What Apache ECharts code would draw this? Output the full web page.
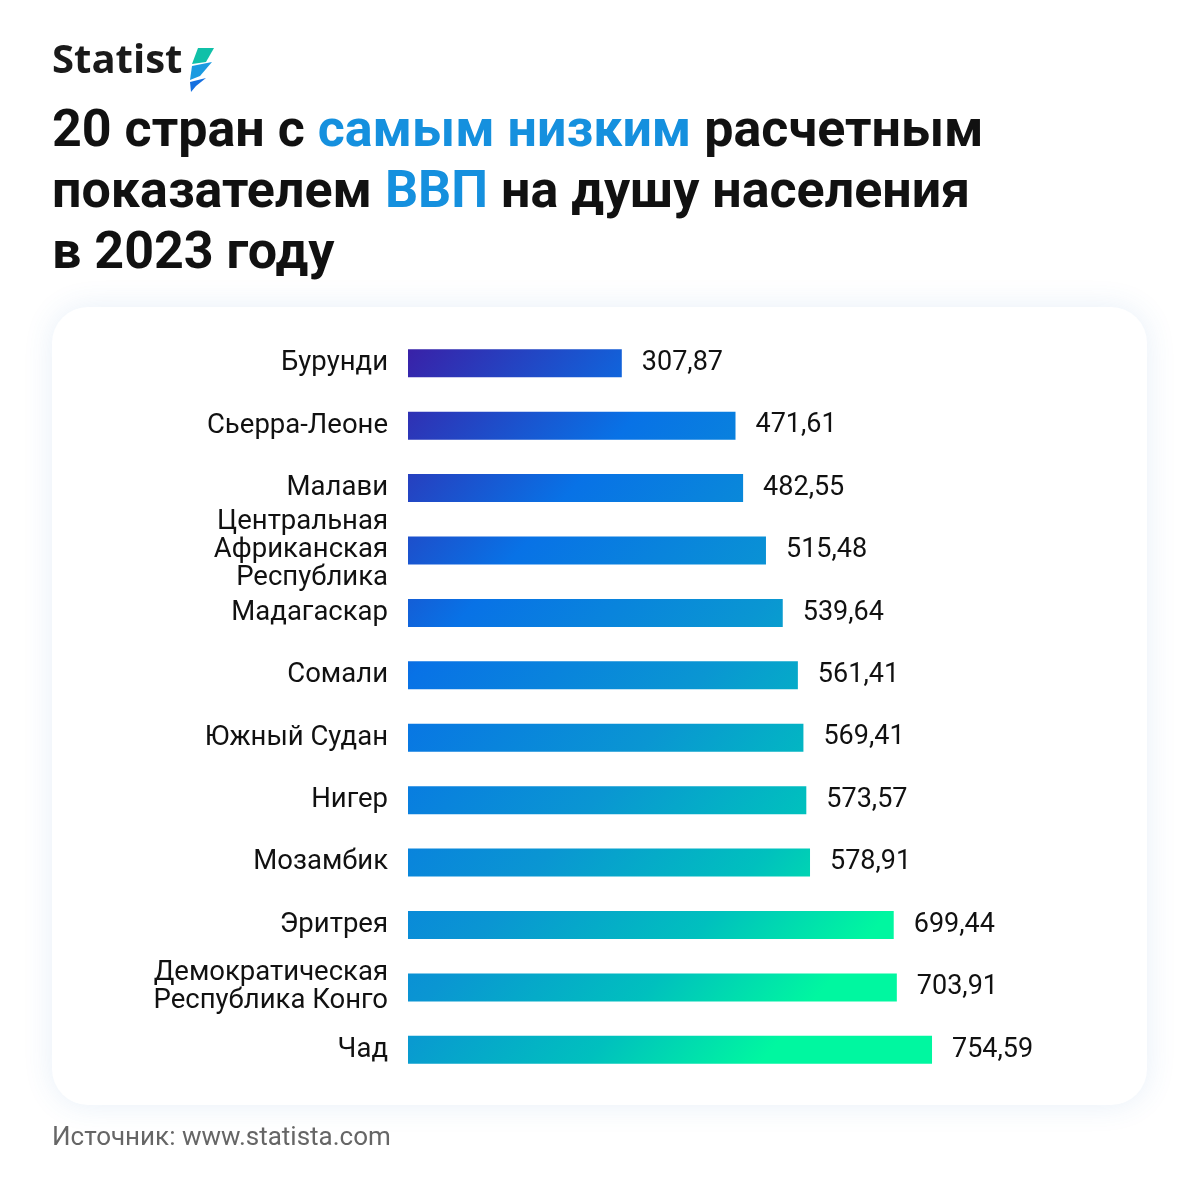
<!DOCTYPE html>
<html><head><meta charset="utf-8">
<script src="https://cdn.jsdelivr.net/npm/echarts@6/dist/echarts.min.js"></script>
<style>html,body{margin:0;padding:0;background:#fff}#c{width:1200px;height:1200px}</style>
</head><body><div id="c"></div>
<script>
const countries = ['Бурунди','Сьерра-Леоне','Малави','Центральная\nАфриканская\nРеспублика','Мадагаскар','Сомали','Южный Судан','Нигер','Мозамбик','Эритрея','Демократическая\nРеспублика Конго','Чад'];
const values = [307.87,471.61,482.55,515.48,539.64,561.41,569.41,573.57,578.91,699.44,703.91,754.59];

const chart = echarts.init(document.getElementById('c'));
const grad = {type:'linear',x:400,y:350,x2:960,y2:830,global:true,colorStops:[
  {offset:0,color:'#3a1fa6'},{offset:0.3,color:'#0872e6'},{offset:0.6,color:'#0a96d2'},{offset:0.82,color:'#00c0be'},{offset:1,color:'#00f7a0'}]};
const F = 'Roboto, "Noto Sans", sans-serif';
chart.setOption({
  backgroundColor:'#fff',
  graphic:[
    {type:'rect',shape:{x:52,y:307,width:1095,height:798,r:36},style:{fill:'#fff',shadowBlur:30,shadowColor:'rgba(60,120,200,0.12)'},z:-10},
    {type:'text',left:52,top:42,style:{text:'Statist',font:'bold 40px "Open Sans", sans-serif',fill:'#1a1a1a'}},
    {type:'polygon',shape:{points:[[198,48],[214,48],[206,62],[192,64]]},style:{fill:'#10c0a8'}},
    {type:'polygon',shape:{points:[[192,66],[212,62],[200,76],[190,80]]},style:{fill:'#1a9ae0'}},
    {type:'polygon',shape:{points:[[190,82],[206,78],[196,86],[191,92]]},style:{fill:'#1670e0'}},
    {type:'text',left:52,top:107,style:{
      text:'{b|20 стран с }{c|самым низким}{b| расчетным}\n{b|показателем }{c|ВВП}{b| на душу населения}\n{b|в 2023 году}',
      rich:{b:{font:'bold 52px '+F,fill:'#111',lineHeight:61},c:{font:'bold 52px '+F,fill:'#1590de',lineHeight:61}}}},
    {type:'text',left:52,top:1125,style:{text:'Источник: www.statista.com',font:'26px '+F,fill:'#666'}}
  ],
  grid:{left:408,top:332,width:600,height:749},
  xAxis:{type:'value',min:0,max:864,show:false},
  yAxis:{type:'category',data:countries,inverse:true,axisLine:{show:false},axisTick:{show:false},
    axisLabel:{color:'#111',fontFamily:F,fontSize:27.5,lineHeight:28,margin:20,align:'right'}},
  series:[{type:'bar',data:values,barWidth:28,itemStyle:{color:grad},
    label:{show:true,position:'right',distance:20,color:'#111',fontFamily:F,fontSize:27,
      formatter:p=>p.value.toFixed(2).replace('.',',')}}]
});
</script></body></html>
